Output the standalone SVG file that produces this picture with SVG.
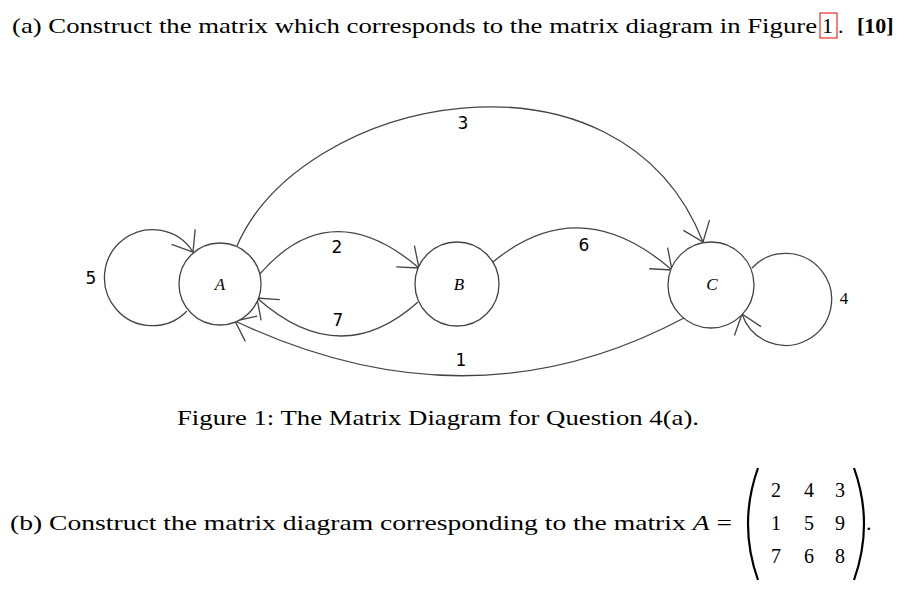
<svg xmlns="http://www.w3.org/2000/svg" width="920" height="590" viewBox="0 0 920 590">
<style>
.s{font-family:"Liberation Serif","Times New Roman",serif;fill:#000}
.l{font-family:"DejaVu Sans","Noto Sans",sans-serif;font-size:17px;fill:#000;text-anchor:middle}
.n{fill:#fff;stroke:#444;stroke-width:1.3}
.e{fill:none;stroke:#444;stroke-width:1.3}
</style>
<defs>
<marker id="ar" markerUnits="userSpaceOnUse" markerWidth="40" markerHeight="40" refX="0" refY="0" viewBox="-20 -20 40 40" orient="auto">
<path d="M-18,-14 L0,0 L-18,14" fill="none" stroke="#444" stroke-width="1.3"/>
</marker>
</defs>
<rect width="920" height="590" fill="#fff"/>
<text class="s" x="12" y="33" font-size="22" textLength="805" lengthAdjust="spacingAndGlyphs">(a) Construct the matrix which corresponds to the matrix diagram in Figure</text>
<rect x="820" y="13" width="17" height="25" fill="none" stroke="#e00" stroke-width="1"/>
<text class="s" x="822" y="33" font-size="22">1</text>
<text class="s" x="838" y="33" font-size="22">.</text>
<text class="s" x="857" y="33" font-size="22" font-weight="bold">[10]</text>
<g id="connectors">
<path class="e" d="M236,248 C300,95 620,30 703,242" marker-end="url(#ar)"/>
<path class="e" d="M259,275 Q330,192 419,268" marker-end="url(#ar)"/>
<path class="e" d="M418,302 Q340,372 257,298" marker-end="url(#ar)"/>
<path class="e" d="M493,262 Q580,190 672,270" marker-end="url(#ar)"/>
<path class="e" d="M684,318 Q470,432 235,321" marker-end="url(#ar)"/>
<path class="e" d="M187,311 A48,48 0 1 1 193,252" marker-end="url(#ar)"/>
<path class="e" d="M752,268 A46,46 0 1 1 742,314" marker-end="url(#ar)"/>
<text class="l" x="463" y="129">3</text>
<text class="l" x="337" y="253">2</text>
<text class="l" x="338" y="326">7</text>
<text class="l" x="584" y="251">6</text>
<text class="l" x="461" y="366">1</text>
<text class="l" x="91" y="284">5</text>
<text class="s" x="844" y="304" font-size="17" text-anchor="middle">4</text>
</g>
<g id="A"><circle class="n" cx="220" cy="284" r="41"/><text class="s" x="220" y="290" font-size="17" font-style="italic" text-anchor="middle">A</text></g>
<g id="B"><circle class="n" cx="457" cy="284" r="42"/><text class="s" x="459" y="290" font-size="17" font-style="italic" text-anchor="middle">B</text></g>
<g id="C"><circle class="n" cx="711" cy="285" r="43"/><text class="s" x="712" y="290" font-size="17" font-style="italic" text-anchor="middle">C</text></g>
<text class="s" x="177" y="425" font-size="22" textLength="522" lengthAdjust="spacingAndGlyphs">Figure 1: The Matrix Diagram for Question 4(a).</text>
<text class="s" x="10" y="530" font-size="22" textLength="722" lengthAdjust="spacingAndGlyphs">(b) Construct the matrix diagram corresponding to the matrix <tspan font-style="italic">A</tspan> =</text>
<path d="M758,468 Q738,524 758,580" fill="none" stroke="#000" stroke-width="2.2"/>
<path d="M854,468 Q874,524 854,580" fill="none" stroke="#000" stroke-width="2.2"/>
<g class="s" font-size="20" text-anchor="middle">
<text x="776" y="497">2</text><text x="809" y="497">4</text><text x="840" y="497">3</text>
<text x="776" y="530">1</text><text x="809" y="530">5</text><text x="840" y="530">9</text>
<text x="776" y="563">7</text><text x="809" y="563">6</text><text x="840" y="563">8</text>
</g>
<text class="s" x="866" y="530" font-size="22">.</text>
</svg>
